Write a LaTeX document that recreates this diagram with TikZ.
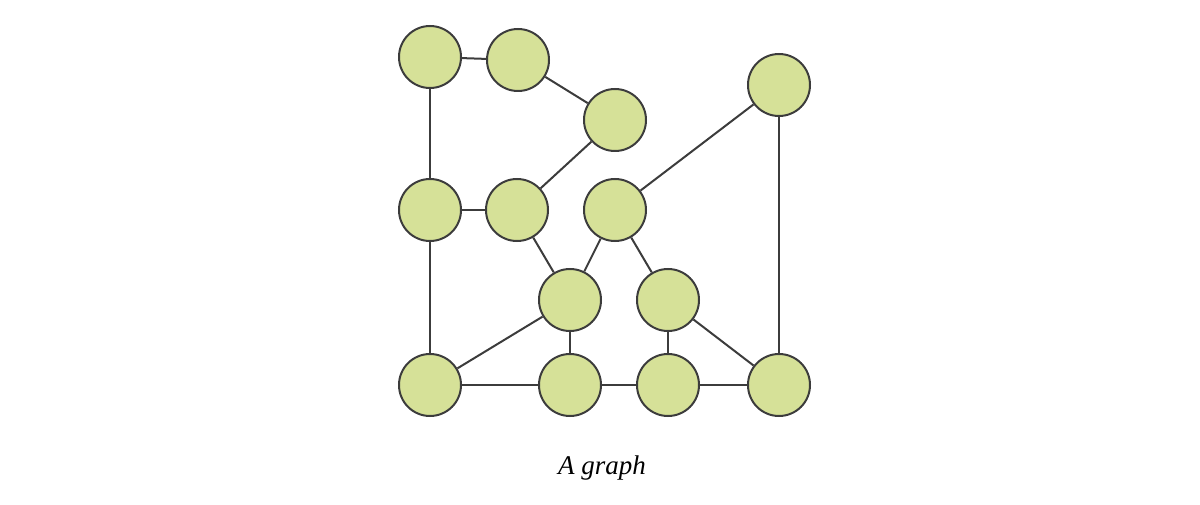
\documentclass[tikz,border=0pt]{standalone}
\usepackage{fontspec}
\setmainfont{Liberation Serif}
\definecolor{nodefill}{RGB}{214,225,152}
\definecolor{edgecol}{RGB}{60,60,60}
\begin{document}
\begin{tikzpicture}[x=1pt,y=-1pt,
  vtx/.style={circle,draw=edgecol,fill=nodefill,line width=2pt,minimum size=62pt,inner sep=0pt},
  edge/.style={draw=edgecol,line width=2pt}]
\useasboundingbox (0,0) rectangle (1200,505);
\node[vtx] (a) at (430,57) {};
\node[vtx] (b) at (518,60) {};
\node[vtx] (c) at (615,120) {};
\node[vtx] (d) at (779,85) {};
\node[vtx] (e) at (430,210) {};
\node[vtx] (f) at (517,210) {};
\node[vtx] (g) at (615,210) {};
\node[vtx] (h) at (570,300) {};
\node[vtx] (i) at (668,300) {};
\node[vtx] (j) at (430,385) {};
\node[vtx] (k) at (570,385) {};
\node[vtx] (l) at (668,385) {};
\node[vtx] (m) at (779,385) {};
\begin{scope}[on background layer/.style={}]
\foreach \u/\v in {a/b,b/c,a/e,c/f,e/f,e/j,f/h,g/h,g/d,g/i,h/j,h/k,i/l,i/m,d/m,j/k,k/l,l/m}
  \draw[edge] (\u) -- (\v);
\end{scope}
\node (cap) at (602,468) {\fontsize{27}{30}\selectfont\itshape A graph};
\end{tikzpicture}
\end{document}
